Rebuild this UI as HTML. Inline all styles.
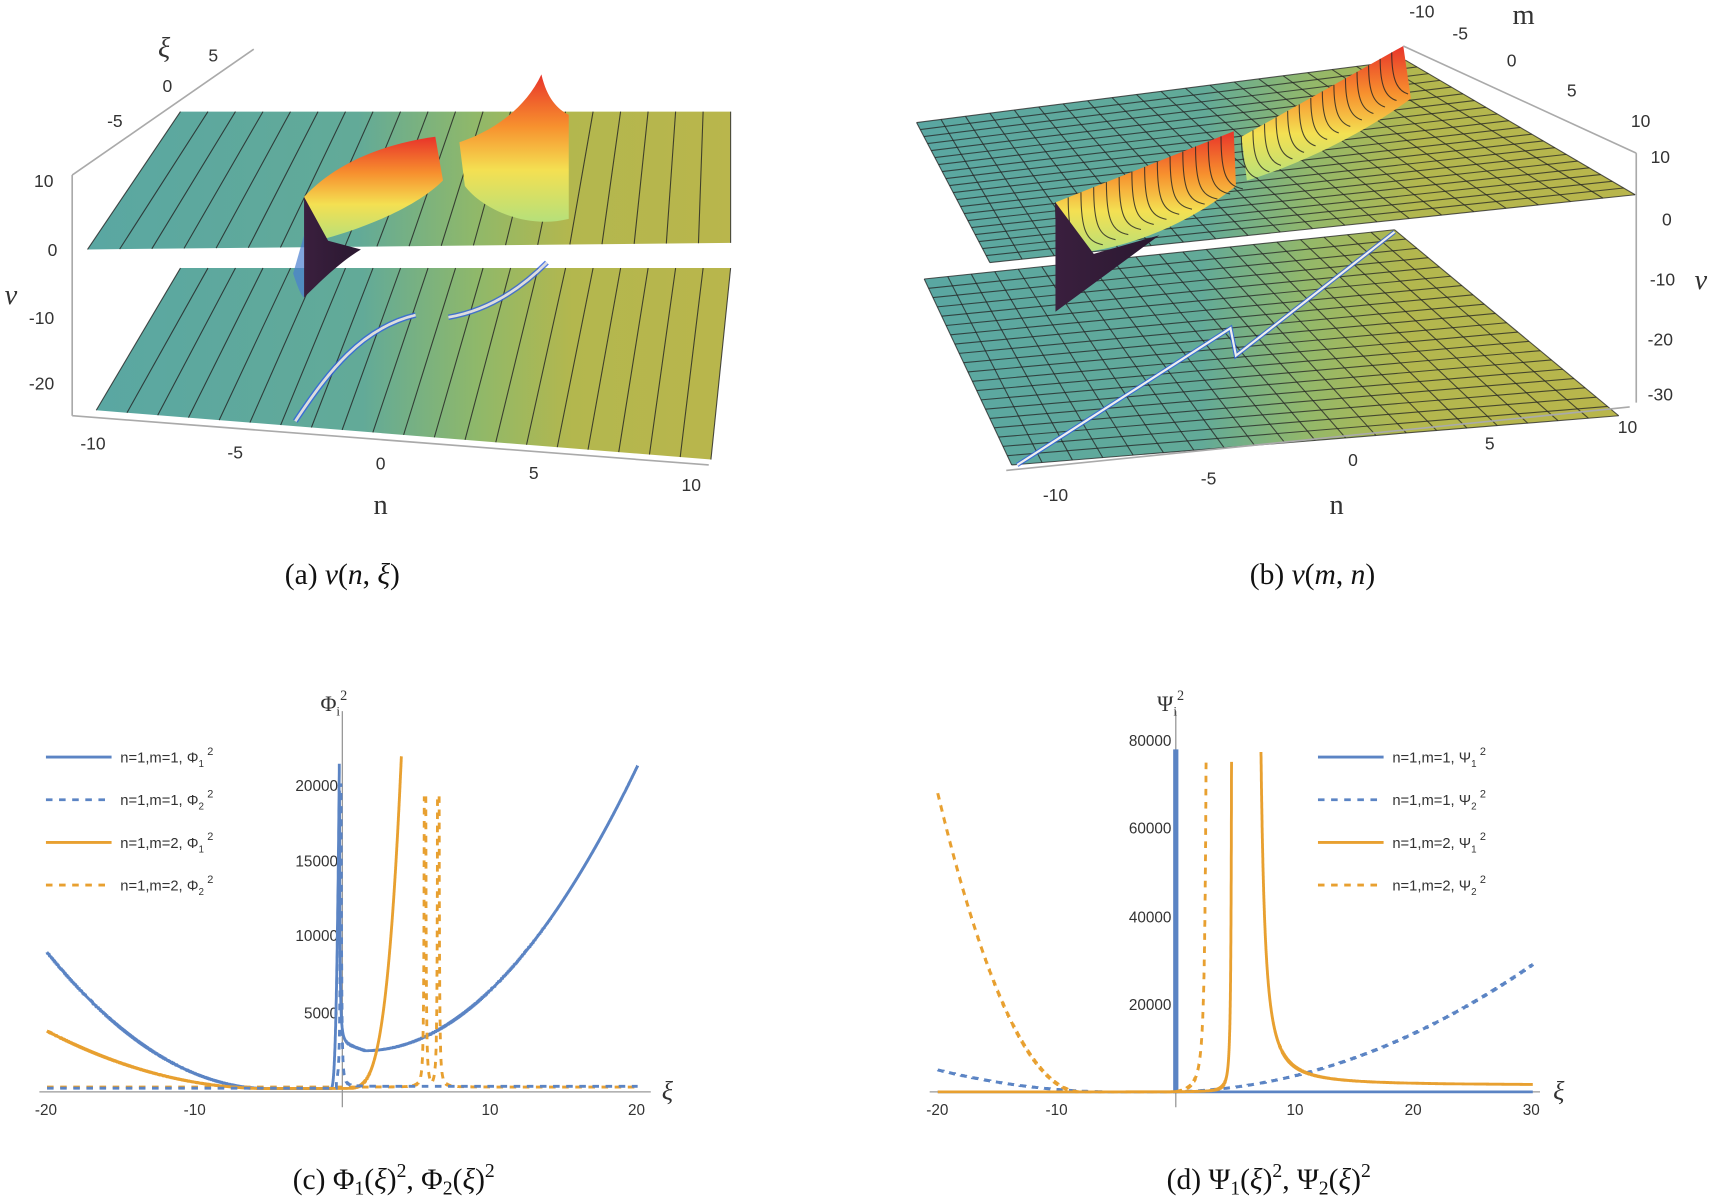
<!DOCTYPE html>
<html><head><meta charset="utf-8">
<style>
html,body{margin:0;padding:0;background:#fff;}
svg{display:block;}
text{font-family:"Liberation Sans",sans-serif;fill:#333;}
.cap{font-family:"Liberation Serif",serif;font-size:27px;fill:#111;}
.tk{font-size:16px;fill:#444;}
.lg{font-size:13.5px;fill:#333;}
</style></head>
<body>
<svg id="s" width="1715" height="1198" viewBox="0 0 1568 1095" preserveAspectRatio="none" xmlns="http://www.w3.org/2000/svg">
<defs>
<linearGradient id="gA" x1="0" x2="1" y1="0" y2="0">
<stop offset="0" stop-color="#5aa7a2"/><stop offset="0.42" stop-color="#62aa98"/><stop offset="0.6" stop-color="#8fb86a"/><stop offset="0.75" stop-color="#b3b74e"/><stop offset="1" stop-color="#b9b64c"/>
</linearGradient>
<linearGradient id="gB" x1="0" x2="1" y1="0" y2="0">
<stop offset="0" stop-color="#5aa7a2"/><stop offset="0.4" stop-color="#62aa98"/><stop offset="0.55" stop-color="#93b86a"/><stop offset="0.7" stop-color="#b3b74e"/><stop offset="1" stop-color="#b9b64c"/>
</linearGradient>
<linearGradient id="ridge" x1="0" x2="0" y1="0" y2="1">
<stop offset="0" stop-color="#e8332a"/><stop offset="0.35" stop-color="#f7902e"/><stop offset="0.65" stop-color="#f4e052"/><stop offset="1" stop-color="#b6e07a"/>
</linearGradient>
<linearGradient id="dark" x1="0" x2="1" y1="0" y2="0">
<stop offset="0" stop-color="#3a1f3e"/><stop offset="1" stop-color="#2a1830"/>
</linearGradient>
</defs>
<g id="g"></g>
<g stroke="#aaa" stroke-width="1.5" fill="none">
<line x1="66" y1="160" x2="66" y2="380"/>
<line x1="66" y1="380" x2="648" y2="425"/>
<line x1="66" y1="160" x2="232" y2="45"/>
<line x1="1496" y1="140" x2="1496" y2="368"/>
<line x1="920" y1="430" x2="1490" y2="372"/>
<line x1="1283" y1="42" x2="1496" y2="140"/>
</g>
<g class="tk">
<text x="85" y="411" text-anchor="middle">-10</text>
<text x="215" y="419" text-anchor="middle">-5</text>
<text x="348" y="429" text-anchor="middle">0</text>
<text x="488" y="438" text-anchor="middle">5</text>
<text x="632" y="449" text-anchor="middle">10</text>
<text x="40" y="171" text-anchor="middle">10</text>
<text x="48" y="234" text-anchor="middle">0</text>
<text x="38" y="296" text-anchor="middle">-10</text>
<text x="38" y="356" text-anchor="middle">-20</text>
<text x="195" y="56" text-anchor="middle">5</text>
<text x="153" y="84" text-anchor="middle">0</text>
<text x="105" y="116" text-anchor="middle">-5</text>
<text x="965" y="458" text-anchor="middle">-10</text>
<text x="1105" y="443" text-anchor="middle">-5</text>
<text x="1237" y="426" text-anchor="middle">0</text>
<text x="1362" y="411" text-anchor="middle">5</text>
<text x="1488" y="396" text-anchor="middle">10</text>
<text x="1518" y="149" text-anchor="middle">10</text>
<text x="1524" y="206" text-anchor="middle">0</text>
<text x="1520" y="261" text-anchor="middle">-10</text>
<text x="1518" y="316" text-anchor="middle">-20</text>
<text x="1518" y="366" text-anchor="middle">-30</text>
<text x="1300" y="16" text-anchor="middle">-10</text>
<text x="1335" y="36" text-anchor="middle">-5</text>
<text x="1382" y="61" text-anchor="middle">0</text>
<text x="1437" y="88" text-anchor="middle">5</text>
<text x="1500" y="116" text-anchor="middle">10</text>
</g>
<g font-size="26" fill="#222">
<text x="348" y="470" text-anchor="middle" style="font-family:'Liberation Serif',serif">n</text>
<text x="1222" y="470" text-anchor="middle" style="font-family:'Liberation Serif',serif">n</text>
<text x="1393" y="22" text-anchor="middle" style="font-family:'Liberation Serif',serif">m</text>
<text x="10" y="278" text-anchor="middle" style="font-family:'Liberation Serif',serif;font-style:italic">ν</text>
<text x="1555" y="264" text-anchor="middle" style="font-family:'Liberation Serif',serif;font-style:italic">ν</text>
<text x="150" y="52" text-anchor="middle" style="font-family:'Liberation Serif',serif;font-style:italic">ξ</text>
</g>
<text class="cap" x="313" y="534" text-anchor="middle">(a) <tspan font-style="italic">ν</tspan>(<tspan font-style="italic">n</tspan>, <tspan font-style="italic">ξ</tspan>)</text>
<text class="cap" x="1200" y="534" text-anchor="middle">(b) <tspan font-style="italic">ν</tspan>(<tspan font-style="italic">m</tspan>, <tspan font-style="italic">n</tspan>)</text>
<text class="cap" x="360" y="1087" text-anchor="middle">(c) Φ<tspan font-size="18" dy="5">1</tspan><tspan dy="-5">(</tspan><tspan font-style="italic">ξ</tspan>)<tspan font-size="18" dy="-11">2</tspan><tspan dy="11">,  Φ</tspan><tspan font-size="18" dy="5">2</tspan><tspan dy="-5">(</tspan><tspan font-style="italic">ξ</tspan>)<tspan font-size="18" dy="-11">2</tspan></text>
<text class="cap" x="1160" y="1087" text-anchor="middle">(d) Ψ<tspan font-size="18" dy="5">1</tspan><tspan dy="-5">(</tspan><tspan font-style="italic">ξ</tspan>)<tspan font-size="18" dy="-11">2</tspan><tspan dy="11">,  Ψ</tspan><tspan font-size="18" dy="5">2</tspan><tspan dy="-5">(</tspan><tspan font-style="italic">ξ</tspan>)<tspan font-size="18" dy="-11">2</tspan></text>

<g stroke="#999" stroke-width="1.2">
<line x1="36" y1="998" x2="595" y2="998"/>
<line x1="313" y1="650" x2="313" y2="1012"/>
<line x1="850" y1="998" x2="1408" y2="998"/>
<line x1="1075" y1="650" x2="1075" y2="1012"/>
</g>
<g class="tk" style="font-size:14px">
<text x="42" y="1019" text-anchor="middle">-20</text>
<text x="178" y="1019" text-anchor="middle">-10</text>
<text x="448" y="1019" text-anchor="middle">10</text>
<text x="582" y="1019" text-anchor="middle">20</text>
<text x="309" y="723" text-anchor="end">20000</text>
<text x="309" y="792" text-anchor="end">15000</text>
<text x="309" y="860" text-anchor="end">10000</text>
<text x="309" y="931" text-anchor="end">5000</text>
<text x="857" y="1019" text-anchor="middle">-20</text>
<text x="966" y="1019" text-anchor="middle">-10</text>
<text x="1184" y="1019" text-anchor="middle">10</text>
<text x="1292" y="1019" text-anchor="middle">20</text>
<text x="1400" y="1019" text-anchor="middle">30</text>
<text x="1071" y="682" text-anchor="end">80000</text>
<text x="1071" y="762" text-anchor="end">60000</text>
<text x="1071" y="843" text-anchor="end">40000</text>
<text x="1071" y="923" text-anchor="end">20000</text>
</g>
<g font-size="20" fill="#333">
<text x="293" y="650" style="font-family:'Liberation Serif',serif">Φ<tspan font-size="12" dy="4">i</tspan><tspan font-size="13" dy="-14">2</tspan></text>
<text x="1058" y="650" style="font-family:'Liberation Serif',serif">Ψ<tspan font-size="12" dy="4">i</tspan><tspan font-size="13" dy="-14">2</tspan></text>
<text x="605" y="1005" font-style="italic" font-size="24" style="font-family:'Liberation Serif',serif">ξ</text>
<text x="1420" y="1005" font-style="italic" font-size="24" style="font-family:'Liberation Serif',serif">ξ</text>
</g>
<g id="curves" fill="none" stroke-width="2.6"></g>
<g class="lg" id="leg"></g>
</svg>
<script>
var NS="http://www.w3.org/2000/svg",G=document.getElementById('g');
function el(p,t,a){var e=document.createElementNS(NS,t);for(var k in a)e.setAttribute(k,a[k]);p.appendChild(e);return e;}
function lerp(a,b,t){return [a[0]+(b[0]-a[0])*t,a[1]+(b[1]-a[1])*t];}
function poly(pts){return pts.map(function(p){return p[0].toFixed(1)+','+p[1].toFixed(1)}).join(' ');}
var LA=[[165,245],[668,245],[650,420],[88,375]];
el(G,'polygon',{points:poly(LA),fill:'url(#gA)'});
for(var i=0;i<=20;i++){var t=i/20;var a=lerp(LA[0],LA[1],t),b=lerp(LA[3],LA[2],t);el(G,'line',{x1:a[0],y1:a[1],x2:b[0],y2:b[1],stroke:'#222','stroke-width':1,opacity:.8});}
el(G,'path',{d:'M270,385 C300,340 330,300 380,288 M410,290 C440,285 470,270 500,240',stroke:'#3060e0','stroke-width':5,fill:'none',opacity:.8});
el(G,'path',{d:'M270,385 C300,340 330,300 380,288 M410,290 C440,285 470,270 500,240',stroke:'#ddd','stroke-width':2.5,fill:'none'});
var UA=[[165,102],[668,102],[668,222],[80,228]];
el(G,'polygon',{points:poly(UA),fill:'url(#gA)'});
for(var i=0;i<=20;i++){var t=i/20;var a=lerp(UA[0],UA[1],t),b=lerp(UA[3],UA[2],t);el(G,'line',{x1:a[0],y1:a[1],x2:b[0],y2:b[1],stroke:'#222','stroke-width':1,opacity:.8});}
el(G,'path',{d:'M278,180 C310,145 360,130 398,125 L405,165 C380,190 330,210 290,220 Z',fill:'url(#ridge)'});
el(G,'path',{d:'M420,130 C450,120 480,100 495,68 C500,90 510,100 520,105 L520,200 C480,210 440,190 425,170 Z',fill:'url(#ridge)'});
el(G,'path',{d:'M278,180 L278,272 C290,260 310,240 330,228 L300,220 Z',fill:'url(#dark)'});
el(G,'path',{d:'M268,250 C272,262 275,270 278,272 L278,215 Z',fill:'#4a7fd0',opacity:.7});
function sheet(P,fill,n){el(G,'polygon',{points:poly(P),fill:fill});
 for(var i=0;i<=n;i++){var t=i/n;var a=lerp(P[0],P[1],t),b=lerp(P[3],P[2],t);el(G,'line',{x1:a[0],y1:a[1],x2:b[0],y2:b[1],stroke:'#222','stroke-width':1,opacity:.75});
 a=lerp(P[0],P[3],t);b=lerp(P[1],P[2],t);el(G,'line',{x1:a[0],y1:a[1],x2:b[0],y2:b[1],stroke:'#222','stroke-width':1,opacity:.75});}}
var LB=[[845,255],[1275,210],[1480,380],[925,425]];
sheet(LB,'url(#gB)',20);
el(G,'path',{d:'M930,425 L1125,300 L1130,325 L1275,212',stroke:'#3060e0','stroke-width':4,fill:'none',opacity:.8});
el(G,'path',{d:'M930,425 L1125,300 L1130,325 L1275,212',stroke:'#eee','stroke-width':2,fill:'none'});
var UB=[[838,112],[1285,55],[1495,178],[905,240]];
sheet(UB,'url(#gB)',20);
el(G,'path',{d:'M965,185 L1128,120 L1130,170 C1080,210 1020,230 975,232 Z',fill:'url(#ridge)'});
el(G,'path',{d:'M1135,125 L1283,42 L1290,90 C1250,120 1190,150 1140,165 Z',fill:'url(#ridge)'});
for(var i=0;i<14;i++){var t=i/14;var x=965+(1128-965)*t,y=185+(120-185)*t;el(G,'path',{d:'M'+x+','+y+' C'+x+','+(y+35)+' '+(x+5)+','+(y+45)+' '+(x+20)+','+(y+48),stroke:'#222','stroke-width':1,fill:'none',opacity:.8});}
for(var i=0;i<14;i++){var t=i/14;var x=1135+(1283-1135)*t,y=125+(42-125)*t;el(G,'path',{d:'M'+x+','+y+' C'+x+','+(y+25)+' '+(x+5)+','+(y+35)+' '+(x+15)+','+(y+38),stroke:'#222','stroke-width':1,fill:'none',opacity:.8});}
el(G,'path',{d:'M965,185 L965,285 L1060,215 L1000,232 Z',fill:'url(#dark)'});

var C=document.getElementById('curves');
function path(fx,x0,x1,X,Y,col,dash){var d='',pen=false,N=8000;for(var i=0;i<=N;i++){var x=x0+(x1-x0)*i/N;var y=fx(x);if(y==null||!isFinite(y)){pen=false;continue;}
 var px=X(x),py=Y(y);d+=(pen?'L':'M')+px.toFixed(1)+','+py.toFixed(1);pen=true;}
 var a={d:d,stroke:col};if(dash)a['stroke-dasharray']='6,6';el(C,'path',a);}
var BL='#5b84c4',OR='#e8a030';
var Xc=function(x){return 313+x*13.5},Yc=function(y){return 995-y*0.01384};
var cap=22000;
function clip(v){return v>cap?null:v;}
path(function(x){if(x<-5)return 9000*Math.pow((x+5)/15,2);if(x<-0.8)return 0;if(x<-0.2)return clip(22000*Math.pow((x+0.8)/0.6,3));if(x<1.5)return clip(2500+60/(x+0.25)/(x+0.25)*1+300*(1.5-x));return 2500+55*Math.pow(x-1.5,2);},-20,20,Xc,Yc,BL);
path(function(x){if(x<-5)return 3800*Math.pow((x+5)/15,2);if(x<0)return 10;return clip(10+22000*Math.pow(x/4,4));},-20,4.0,Xc,Yc,OR);
path(function(x){var d=Math.min(Math.abs(x-5.6),Math.abs(x-6.5));return clip(100+60/(d*d+0.0001));},-20,20,Xc,Yc,OR,1);
path(function(x){return x<-0.4?30:clip(150+40/((x+0.1)*(x+0.1)+0.002));},-20,20,Xc,Yc,BL,1);
var Xd=function(x){return 1075+x*10.88},Yd=function(y){return 998-y*0.004013};
var cap2=78000;function clip2(v){return v>cap2?null:v;}
path(function(x){return 0;},-20,30,Xd,Yd,BL);
el(C,'line',{x1:Xd(-0.1),y1:Yd(0),x2:Xd(-0.1),y2:Yd(78000),stroke:BL});
el(C,'line',{x1:Xd(0.1),y1:Yd(0),x2:Xd(0.1),y2:Yd(78000),stroke:BL});
path(function(x){if(x<-5)return 5000*Math.pow((x+5)/15,2);return 29000*Math.pow(Math.max(x+1,0)/31,2);},-20,30,Xd,Yd,BL,1);
path(function(x){if(x<-8)return 68000*Math.pow((x+8)/12,2);if(x<0)return 0;return clip2(Math.max(0,5000/Math.pow(2.8-x,2)-600));},-20,2.79,Xd,Yd,OR,1);
path(function(x){return clip2(1000/Math.pow(4.8-x,2));},-20,4.79,Xd,Yd,OR);
path(function(x){return clip2(1500+30000/Math.pow(x-6.6,1.6));},6.61,30,Xd,Yd,OR);
var L=document.getElementById('leg');
var labs=[['n=1,m=1, ',BL,0,'1'],['n=1,m=1, ',BL,1,'2'],['n=1,m=2, ',OR,0,'1'],['n=1,m=2, ',OR,1,'2']];
labs.forEach(function(l,i){
 [[42,'Φ'],[1205,'Ψ']].forEach(function(p){var y=692+i*39;var a={x1:p[0],y1:y,x2:p[0]+60,y2:y,stroke:l[1],'stroke-width':2.6};if(l[2])a['stroke-dasharray']='6,6';el(L,'line',a);
 var t=el(L,'text',{x:p[0]+68,y:y+5});t.appendChild(document.createTextNode(l[0]+p[1]));var s=el(t,'tspan',{'font-size':'9',dy:'4'});s.textContent=l[3];var s2=el(t,'tspan',{'font-size':'10',dy:'-11',dx:'3'});s2.textContent='2';});
});
</script>
</body></html>
